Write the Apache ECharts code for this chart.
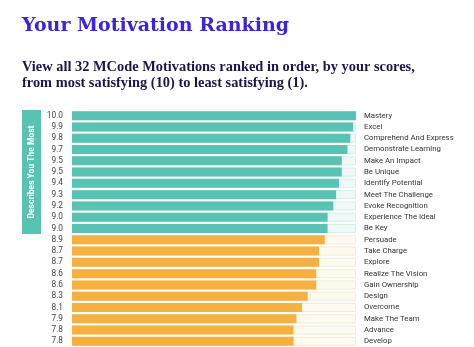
<!DOCTYPE html>
<html>
<head>
<meta charset="utf-8">
<script src="https://cdn.jsdelivr.net/npm/echarts@6/dist/echarts.min.js"></script>
<style>
html,body{margin:0;padding:0;background:#fff;}
#chart{width:474px;height:347px;}
</style>
</head>
<body>
<div id="chart"></div>
<script>
const titleText = 'Your Motivation Ranking';
const subtitleText = 'View all 32 MCode Motivations ranked in order, by your scores,\nfrom most satisfying (10) to least satisfying (1).';
const tagText = 'Describes You The Most';
const categories = ['Mastery', 'Excel', 'Comprehend And Express', 'Demonstrate Learning', 'Make An Impact', 'Be Unique', 'Identify Potential', 'Meet The Challenge', 'Evoke Recognition', 'Experience The Ideal', 'Be Key', 'Persuade', 'Take Charge', 'Explore', 'Realize The Vision', 'Gain Ownership', 'Design', 'Overcome', 'Make The Team', 'Advance', 'Develop'];
const scores = [10.0, 9.9, 9.8, 9.7, 9.5, 9.5, 9.4, 9.3, 9.2, 9.0, 9.0, 8.9, 8.7, 8.7, 8.6, 8.6, 8.3, 8.1, 7.9, 7.8, 7.8];
const groups = ['most','most','most','most','most','most','most','most','most','most','most','middle','middle','middle','middle','middle','middle','middle','middle','middle','middle'];
const scaleMax = 10;

const barColors = { most: '#58c3b3', middle: '#f5b03f' };
const trackColors = { most: '#effaf8', middle: '#fffaef' };
const trackBorders = { most: '#d3eeea', middle: '#f5ead2' };

const chart = echarts.init(document.getElementById('chart'), null, { renderer: 'canvas' });
const scoreLabels = scores.map(v => v.toFixed(1));

chart.setOption({
  animation: false,
  backgroundColor: '#ffffff',
  title: [
    { text: titleText, left: 17, top: 12,
      textStyle: { fontFamily: 'DejaVu Serif', fontWeight: 'bold', fontSize: 19, color: '#3d22df' } },
    { text: subtitleText, left: 17, top: 55,
      textStyle: { fontFamily: 'Liberation Serif', fontWeight: 'bold', fontSize: 14.4, lineHeight: 15.5, color: '#1b1648' } }
  ],
  grid: { left: 72, right: 118, top: 110, bottom: 0, containLabel: false },
  xAxis: { type: 'value', min: 0, max: scaleMax, show: false },
  yAxis: [
    { type: 'category', inverse: true, data: scoreLabels, position: 'left',
      axisLine: { show: false }, axisTick: { show: false }, splitLine: { show: false },
      axisLabel: { interval: 0, margin: 9, fontFamily: 'Roboto', fontSize: 8.3, color: '#444' } },
    { type: 'category', inverse: true, data: categories, position: 'right',
      axisLine: { show: false }, axisTick: { show: false }, splitLine: { show: false },
      axisLabel: { interval: 0, margin: 8, fontFamily: 'Roboto', fontSize: 7.8, color: '#333' } }
  ],
  series: [
    { type: 'bar', yAxisIndex: 0, barWidth: 9, silent: true,
      data: categories.map((c, i) => ({ value: scaleMax,
        itemStyle: { color: trackColors[groups[i]], borderColor: trackBorders[groups[i]], borderWidth: 1 } })) },
    { type: 'bar', yAxisIndex: 0, barWidth: 9, barGap: '-100%',
      data: scores.map((v, i) => ({ value: v, itemStyle: { color: barColors[groups[i]] } })) }
  ],
  graphic: [
    { type: 'rect', shape: { x: 22, y: 110, width: 19, height: 124 }, style: { fill: '#58c3b3' } },
    { type: 'text', x: 31.5, y: 172, rotation: Math.PI / 2,
      style: { text: tagText, fill: '#ffffff', font: 'bold 8.5px Roboto', align: 'center', verticalAlign: 'middle' } }
  ]
});
</script>
</body>
</html>
